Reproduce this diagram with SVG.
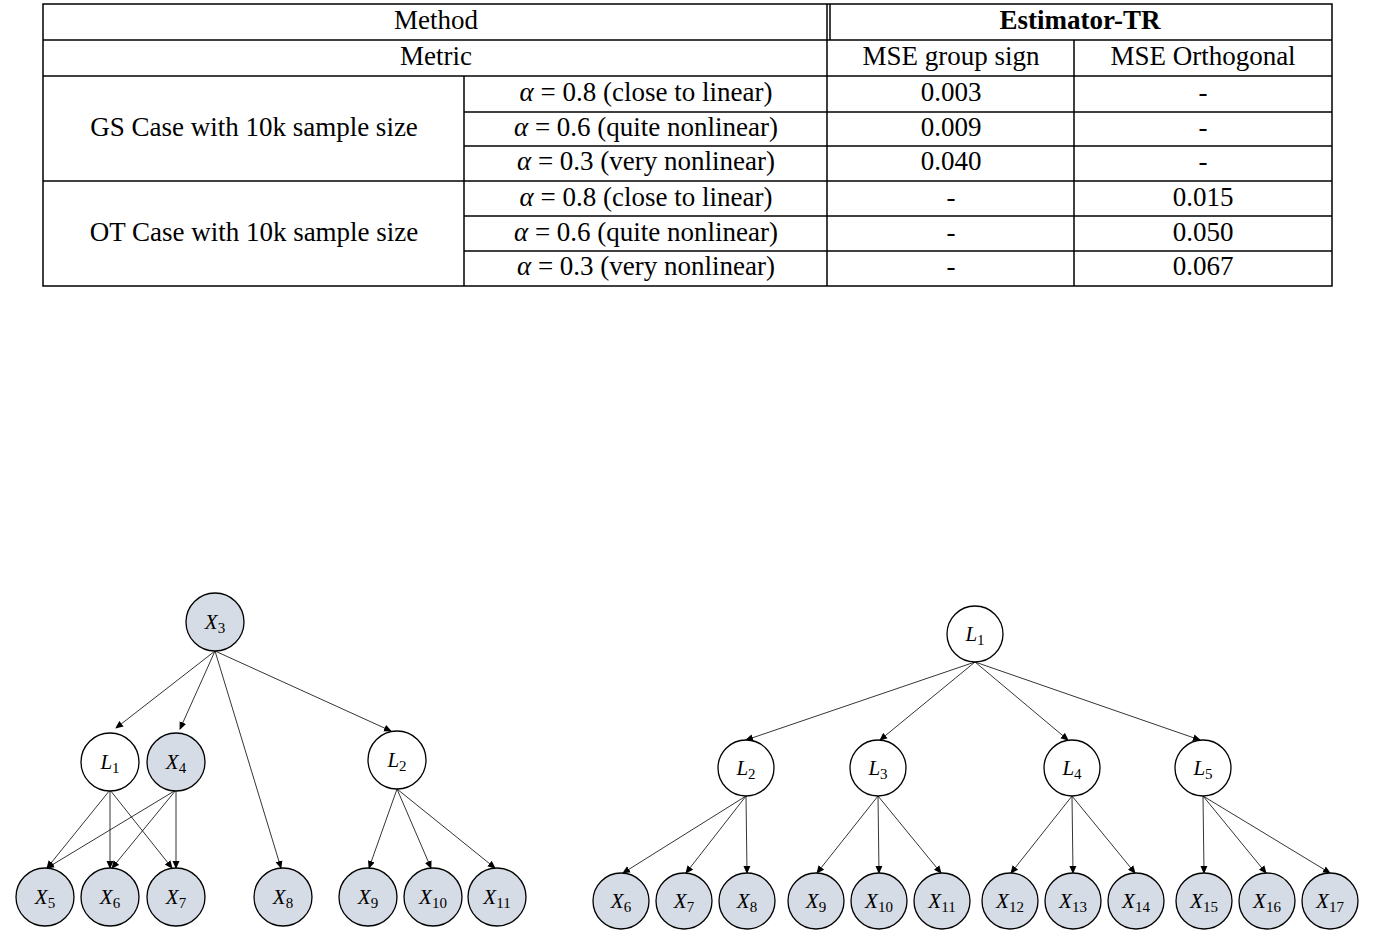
<svg xmlns="http://www.w3.org/2000/svg" width="1376" height="947" viewBox="0 0 1376 947">
<style>
.t{font-family:"Liberation Serif",serif;font-size:27px;fill:#000;text-anchor:middle}
.b{font-weight:bold}
.g line{stroke:#000;stroke-width:1.5}
.n circle{stroke:#000;stroke-width:1.3}
.f{fill:#d6dce5}.w{fill:#fff}
.m{font-family:"Liberation Serif",serif;font-size:21px;font-style:italic;text-anchor:middle}
.m tspan{font-style:normal;font-size:15px}
.e line{stroke:#000;stroke-width:0.8;marker-end:url(#a)}
</style>
<defs><marker id="a" markerWidth="8" markerHeight="8" refX="7" refY="4" orient="auto" markerUnits="userSpaceOnUse"><path d="M0,0.5L8,4L0,7.5z"/></marker></defs>
<rect width="1376" height="947" fill="#fff"/>
<g id="table" class="g">
<rect x="43" y="4" width="1289" height="282" fill="none" stroke="#000" stroke-width="1.5"/>
<line x1="43" y1="40" x2="1332" y2="40"/><line x1="43" y1="76" x2="1332" y2="76"/>
<line x1="464" y1="112" x2="1332" y2="112"/><line x1="464" y1="146" x2="1332" y2="146"/>
<line x1="43" y1="181" x2="1332" y2="181"/><line x1="464" y1="216" x2="1332" y2="216"/><line x1="464" y1="251" x2="1332" y2="251"/>
<line x1="464" y1="76" x2="464" y2="286"/>
<line x1="827" y1="4" x2="827" y2="286"/><line x1="830" y1="4" x2="830" y2="40"/>
<line x1="1074" y1="40" x2="1074" y2="286"/>
<text class="t" x="436" y="29">Method</text>
<text class="t b" x="1080" y="29">Estimator-TR</text>
<text class="t" x="436" y="65">Metric</text>
<text class="t" x="951" y="65">MSE group sign</text>
<text class="t" x="1203" y="65">MSE Orthogonal</text>
<text class="t" x="254" y="136">GS Case with 10k sample size</text>
<text class="t" x="254" y="241">OT Case with 10k sample size</text>
<text class="t" x="646" y="101"><tspan font-style="italic">α</tspan> = 0.8 (close to linear)</text>
<text class="t" x="646" y="136"><tspan font-style="italic">α</tspan> = 0.6 (quite nonlinear)</text>
<text class="t" x="646" y="170"><tspan font-style="italic">α</tspan> = 0.3 (very nonlinear)</text>
<text class="t" x="646" y="206"><tspan font-style="italic">α</tspan> = 0.8 (close to linear)</text>
<text class="t" x="646" y="241"><tspan font-style="italic">α</tspan> = 0.6 (quite nonlinear)</text>
<text class="t" x="646" y="275"><tspan font-style="italic">α</tspan> = 0.3 (very nonlinear)</text>
<text class="t" x="951" y="101">0.003</text><text class="t" x="951" y="136">0.009</text><text class="t" x="951" y="170">0.040</text>
<text class="t" x="951" y="206">-</text><text class="t" x="951" y="241">-</text><text class="t" x="951" y="275">-</text>
<text class="t" x="1203" y="101">-</text><text class="t" x="1203" y="136">-</text><text class="t" x="1203" y="170">-</text>
<text class="t" x="1203" y="206">0.015</text><text class="t" x="1203" y="241">0.050</text><text class="t" x="1203" y="275">0.067</text>
</g>
<g id="edges" class="e">
<line x1="215" y1="651" x2="116" y2="728"/>
<line x1="215" y1="651" x2="180" y2="729"/>
<line x1="215" y1="651" x2="281" y2="868"/>
<line x1="215" y1="651" x2="391" y2="731"/>
<line x1="110" y1="790" x2="47" y2="868"/>
<line x1="110" y1="790" x2="110" y2="868"/>
<line x1="110" y1="790" x2="172" y2="868"/>
<line x1="176" y1="790" x2="47" y2="868"/>
<line x1="176" y1="790" x2="112" y2="868"/>
<line x1="176" y1="790" x2="176" y2="868"/>
<line x1="397" y1="789" x2="369" y2="868"/>
<line x1="397" y1="789" x2="431" y2="868"/>
<line x1="397" y1="789" x2="495" y2="868"/>
<line x1="975" y1="662" x2="746" y2="740"/>
<line x1="975" y1="662" x2="880" y2="740"/>
<line x1="975" y1="662" x2="1068" y2="740"/>
<line x1="975" y1="662" x2="1200" y2="740"/>
<line x1="746" y1="796" x2="623" y2="873"/><line x1="746" y1="796" x2="686" y2="873"/><line x1="746" y1="796" x2="747" y2="873"/>
<line x1="878" y1="796" x2="817" y2="873"/><line x1="878" y1="796" x2="879" y2="873"/><line x1="878" y1="796" x2="941" y2="873"/>
<line x1="1072" y1="796" x2="1011" y2="873"/><line x1="1072" y1="796" x2="1073" y2="873"/><line x1="1072" y1="796" x2="1135" y2="873"/>
<line x1="1203" y1="796" x2="1204" y2="873"/><line x1="1203" y1="796" x2="1266" y2="873"/><line x1="1203" y1="796" x2="1330" y2="873"/>
</g>
<g class="n">
<g id="X3"><circle class="f" cx="215" cy="622" r="29"/><text class="m" x="215" y="629">X<tspan dy="4">3</tspan></text></g>
<g id="L1a"><circle class="w" cx="110" cy="762" r="29"/><text class="m" x="110" y="769">L<tspan dy="4">1</tspan></text></g>
<g id="X4"><circle class="f" cx="176" cy="762" r="29"/><text class="m" x="176" y="769">X<tspan dy="4">4</tspan></text></g>
<g id="L2a"><circle class="w" cx="397" cy="760" r="29"/><text class="m" x="397" y="767">L<tspan dy="4">2</tspan></text></g>
<g id="X5a"><circle class="f" cx="45" cy="897" r="29"/><text class="m" x="45" y="904">X<tspan dy="4">5</tspan></text></g>
<g id="X6a"><circle class="f" cx="110" cy="897" r="29"/><text class="m" x="110" y="904">X<tspan dy="4">6</tspan></text></g>
<g id="X7a"><circle class="f" cx="176" cy="897" r="29"/><text class="m" x="176" y="904">X<tspan dy="4">7</tspan></text></g>
<g id="X8a"><circle class="f" cx="283" cy="897" r="29"/><text class="m" x="283" y="904">X<tspan dy="4">8</tspan></text></g>
<g id="X9a"><circle class="f" cx="368" cy="897" r="29"/><text class="m" x="368" y="904">X<tspan dy="4">9</tspan></text></g>
<g id="X10a"><circle class="f" cx="433" cy="897" r="29"/><text class="m" x="433" y="904">X<tspan dy="4">10</tspan></text></g>
<g id="X11a"><circle class="f" cx="497" cy="897" r="29"/><text class="m" x="497" y="904">X<tspan dy="4">11</tspan></text></g>
<g id="L1b"><circle class="w" cx="975" cy="634" r="28"/><text class="m" x="975" y="641">L<tspan dy="4">1</tspan></text></g>
<g id="L2b"><circle class="w" cx="746" cy="768" r="28"/><text class="m" x="746" y="775">L<tspan dy="4">2</tspan></text></g>
<g id="L3b"><circle class="w" cx="878" cy="768" r="28"/><text class="m" x="878" y="775">L<tspan dy="4">3</tspan></text></g>
<g id="L4b"><circle class="w" cx="1072" cy="768" r="28"/><text class="m" x="1072" y="775">L<tspan dy="4">4</tspan></text></g>
<g id="L5b"><circle class="w" cx="1203" cy="768" r="28"/><text class="m" x="1203" y="775">L<tspan dy="4">5</tspan></text></g>
<g id="X6b"><circle class="f" cx="621" cy="901" r="28"/><text class="m" x="621" y="908">X<tspan dy="4">6</tspan></text></g>
<g id="X7b"><circle class="f" cx="684" cy="901" r="28"/><text class="m" x="684" y="908">X<tspan dy="4">7</tspan></text></g>
<g id="X8b"><circle class="f" cx="747" cy="901" r="28"/><text class="m" x="747" y="908">X<tspan dy="4">8</tspan></text></g>
<g id="X9b"><circle class="f" cx="816" cy="901" r="28"/><text class="m" x="816" y="908">X<tspan dy="4">9</tspan></text></g>
<g id="X10b"><circle class="f" cx="879" cy="901" r="28"/><text class="m" x="879" y="908">X<tspan dy="4">10</tspan></text></g>
<g id="X11b"><circle class="f" cx="942" cy="901" r="28"/><text class="m" x="942" y="908">X<tspan dy="4">11</tspan></text></g>
<g id="X12b"><circle class="f" cx="1010" cy="901" r="28"/><text class="m" x="1010" y="908">X<tspan dy="4">12</tspan></text></g>
<g id="X13b"><circle class="f" cx="1073" cy="901" r="28"/><text class="m" x="1073" y="908">X<tspan dy="4">13</tspan></text></g>
<g id="X14b"><circle class="f" cx="1136" cy="901" r="28"/><text class="m" x="1136" y="908">X<tspan dy="4">14</tspan></text></g>
<g id="X15b"><circle class="f" cx="1204" cy="901" r="28"/><text class="m" x="1204" y="908">X<tspan dy="4">15</tspan></text></g>
<g id="X16b"><circle class="f" cx="1267" cy="901" r="28"/><text class="m" x="1267" y="908">X<tspan dy="4">16</tspan></text></g>
<g id="X17b"><circle class="f" cx="1330" cy="901" r="28"/><text class="m" x="1330" y="908">X<tspan dy="4">17</tspan></text></g>
</g>
</svg>
